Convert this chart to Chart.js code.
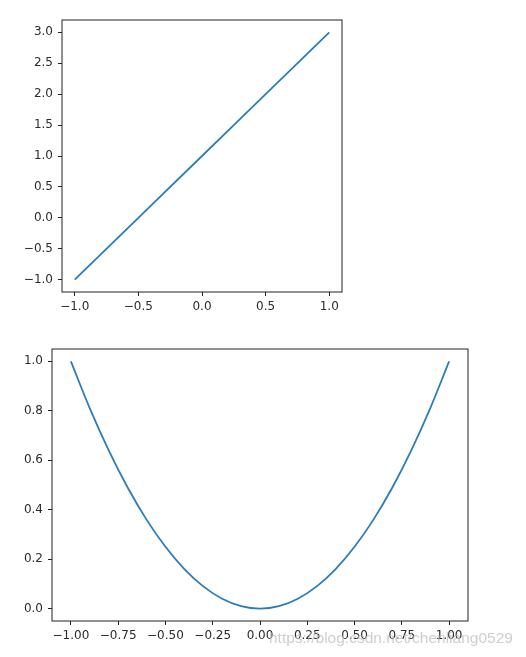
<!DOCTYPE html>
<html>
<head>
<meta charset="utf-8">
<script src="https://cdn.jsdelivr.net/npm/chart.js@4/dist/chart.umd.min.js"></script>
<style>
    html, body { margin: 0; padding: 0; background: #fff; }
    body { width: 526px; height: 657px; position: relative; overflow: hidden; }
    .box { position: absolute; }
    #topBox { left: 0; top: 0; width: 350px; height: 320px; }
    #bottomBox { left: 0; top: 330px; width: 526px; height: 327px; }
    #mark {
        position: absolute; left: 269px; top: 629px;
        font-family: "Liberation Sans", Arial, sans-serif; font-size: 15.5px;
        color: rgba(190, 190, 190, 0.75); white-space: nowrap;
    }
</style>
</head>
<body>
<div class="box" id="topBox"><canvas id="topChart"></canvas></div>
<div class="box" id="bottomBox"><canvas id="bottomChart"></canvas></div>
<div id="mark">https://blog.csdn.net/chenliang0529</div>
<script>
// top plot: straight line
const lineX = [-1.0, -0.5, 0.0, 0.5, 1.0];
const lineY = [-1.0, 0.0, 1.0, 2.0, 3.0];
const topXTicks = [-1.0, -0.5, 0.0, 0.5, 1.0];
const topYTicks = [-1.0, -0.5, 0.0, 0.5, 1.0, 1.5, 2.0, 2.5, 3.0];

// bottom plot: parabola
const curveX = [-1.0, -0.9, -0.8, -0.7, -0.6, -0.5, -0.4, -0.3, -0.2, -0.1, 0.0,
                0.1, 0.2, 0.3, 0.4, 0.5, 0.6, 0.7, 0.8, 0.9, 1.0];
const curveY = [1.0, 0.81, 0.64, 0.49, 0.36, 0.25, 0.16, 0.09, 0.04, 0.01, 0.0,
                0.01, 0.04, 0.09, 0.16, 0.25, 0.36, 0.49, 0.64, 0.81, 1.0];
const bottomXTicks = [-1.0, -0.75, -0.5, -0.25, 0.0, 0.25, 0.5, 0.75, 1.0];
const bottomYTicks = [0.0, 0.2, 0.4, 0.6, 0.8, 1.0];

const lineColor = '#2a7db8';
const textColor = '#2b2b2b';

// matplotlib style minus sign
const fmt = (v, digits) => v.toFixed(digits).replace('-', '\u2212');

// draws the full frame around the plot area
const framePlugin = {
    id: 'frame',
    afterDraw(chart) {
        const { ctx, chartArea: a } = chart;
        ctx.save();
        ctx.strokeStyle = '#222';
        ctx.lineWidth = 1;
        ctx.strokeRect(a.left, a.top, a.right - a.left, a.bottom - a.top);
        ctx.restore();
    }
};

const makeAxis = (min, max, tickList, digits, size, isX) => ({
    type: 'linear',
    min: min,
    max: max,
    grid: {
        display: true,
        drawOnChartArea: false,
        drawTicks: true,
        tickLength: 4,
        color: '#222',
        lineWidth: 1
    },
    border: { display: false },
    ticks: {
        color: textColor,
        padding: isX ? 4 : 5,
        font: { family: 'DejaVu Sans', size: 12 },
        maxRotation: 0,
        autoSkip: false,
        callback: (v) => fmt(v, digits)
    },
    afterBuildTicks: (scale) => {
        scale.ticks = tickList.map(v => ({ value: v }));
    },
    afterFit: (scale) => {
        if (isX) scale.height = size; else scale.width = size;
        scale.paddingLeft = 0;
        scale.paddingRight = 0;
        scale.paddingTop = 0;
        scale.paddingBottom = 0;
    }
});

const makeChart = (id, xs, ys, xAxis, yAxis, padding) => {
    new Chart(document.getElementById(id), {
        type: 'line',
        data: {
            datasets: [{
                data: xs.map((x, i) => ({ x: x, y: ys[i] })),
                borderColor: lineColor,
                borderWidth: 1.8,
                pointRadius: 0,
                cubicInterpolationMode: 'monotone',
                fill: false
            }]
        },
        options: {
            responsive: true,
            maintainAspectRatio: false,
            animation: false,
            layout: { padding: padding },
            plugins: {
                legend: { display: false },
                tooltip: { enabled: false }
            },
            scales: { x: xAxis, y: yAxis }
        },
        plugins: [framePlugin]
    });
};

makeChart('topChart', lineX, lineY,
    makeAxis(-1.1, 1.1, topXTicks, 1, 28, true),
    makeAxis(-1.2, 3.2, topYTicks, 1, 62, false),
    { top: 20, right: 8, left: 0, bottom: 0 });

makeChart('bottomChart', curveX, curveY,
    makeAxis(-1.1, 1.1, bottomXTicks, 2, 36, true),
    makeAxis(-0.05, 1.05, bottomYTicks, 1, 52, false),
    { top: 19, right: 58, left: 0, bottom: 0 });
</script>
</body>
</html>
